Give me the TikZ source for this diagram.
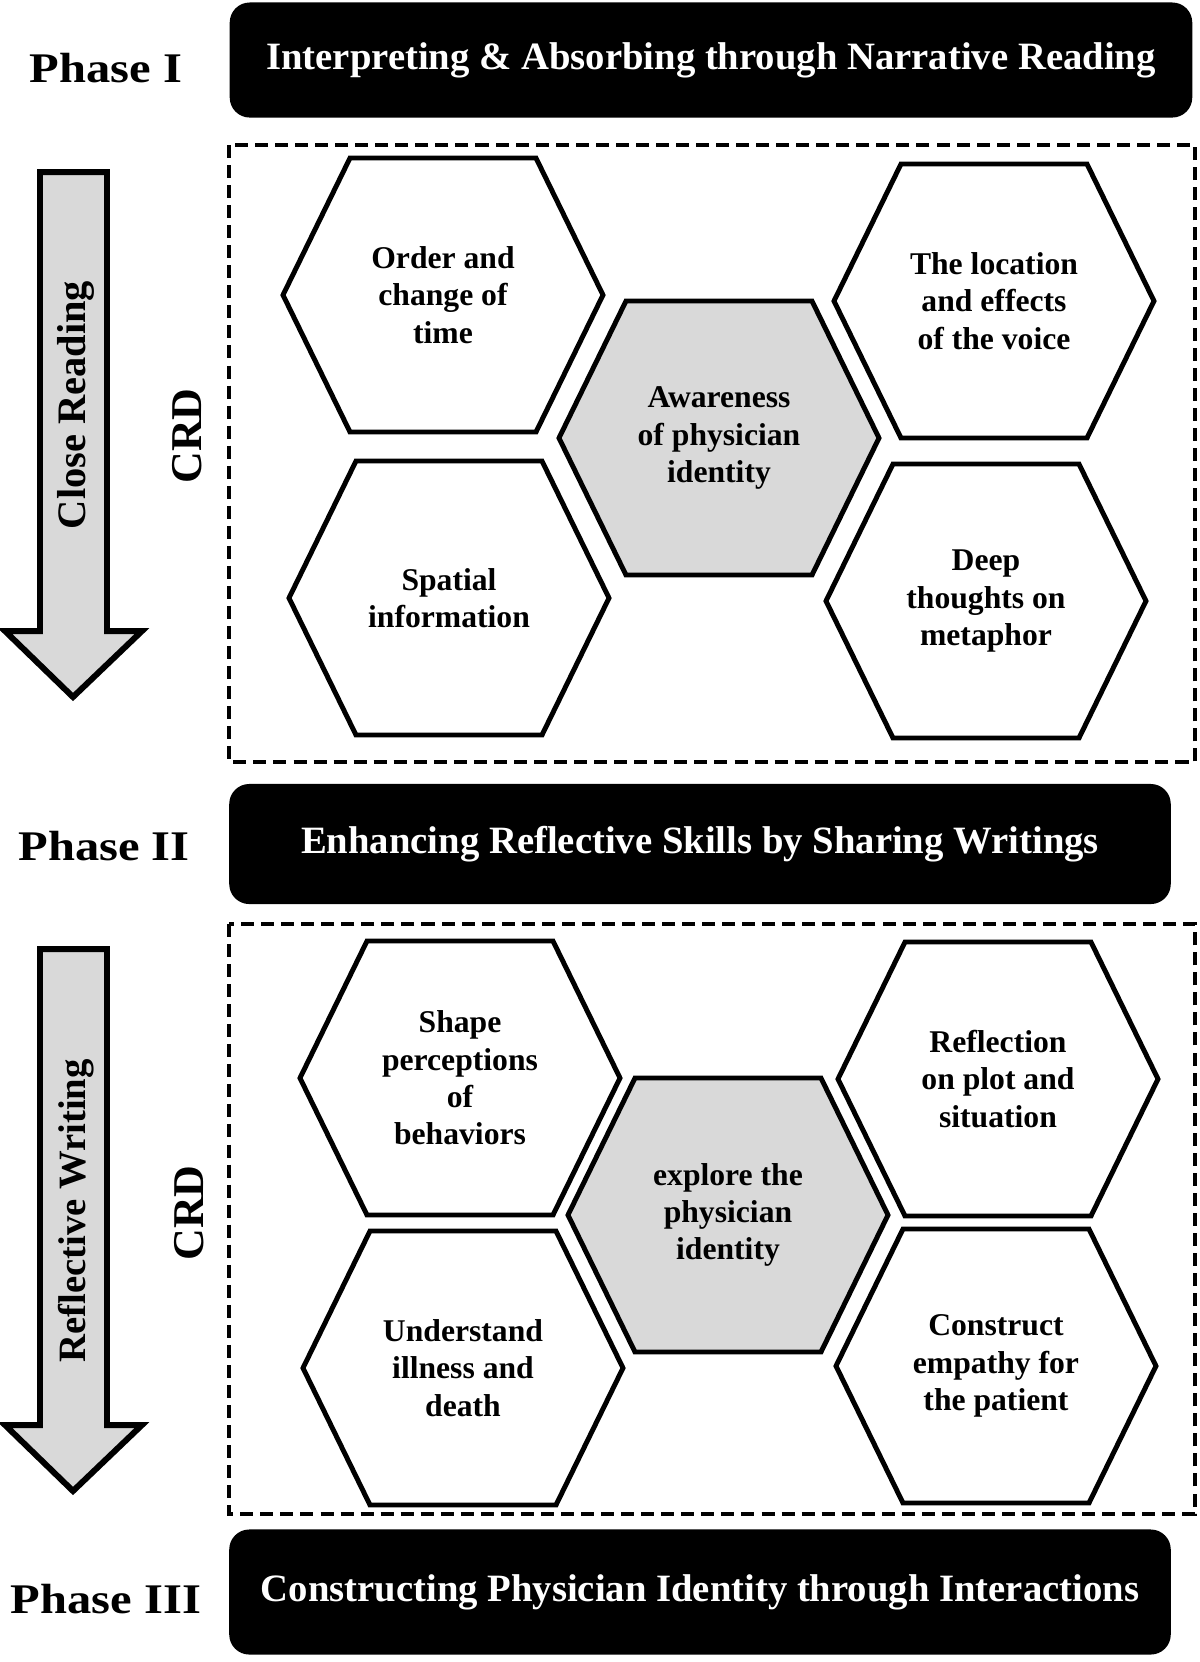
\documentclass[tikz,border=0pt]{standalone}
\usepackage{fontspec}
\setmainfont{Liberation Serif}
\newfontfamily\phasefont[FakeStretch=1.15]{Liberation Serif}
\usetikzlibrary{positioning}
\definecolor{cellgray}{RGB}{217,217,217}

% one hexagon cell: name, x, y, fill, text
\newcommand{\hexcell}[5]{%
  \draw[hexline,fill=#4] (#2-160,#3) -- (#2-93,#3-137) -- (#2+93,#3-137)
    -- (#2+160,#3) -- (#2+93,#3+137) -- (#2-93,#3+137) -- cycle;
  \node (#1) [hextext] at (#2,#3) {#5};}

\begin{document}
\begin{tikzpicture}[x=0.01cm,y=-0.01cm,
        banner/.style={fill=black,text=white,rounded corners=0.2cm,minimum height=1.17cm,
                       font=\fontsize{11}{13}\selectfont\bfseries},
        phase/.style={font=\phasefont\fontsize{12}{14}\selectfont\bfseries},
        hexline/.style={line width=1.4pt,line join=miter},
        hextext/.style={align=center,font=\fontsize{9}{10.6}\selectfont\bfseries},
        dashbox/.style={line width=1.1pt,dash pattern=on 3.7pt off 2pt},
        bigarrow/.style={fill=cellgray,line width=1.7pt,line join=miter},
        sidetext/.style={rotate=90,font=\fontsize{11.5}{14}\selectfont\bfseries},
        crd/.style={rotate=90,font=\fontsize{12.5}{15}\selectfont\bfseries}
      ]
  \useasboundingbox (0,0) rectangle (1200,1662);

  % Phase I
  \node (ban1) [banner,minimum width=9.62cm,minimum height=1.15cm] at (711,60)
        {Interpreting \& Absorbing through Narrative Reading};
  \node (lab1) [phase] at (106,68) {Phase I};

  \draw[dashbox] (229,145) rectangle (1195,762);
  \draw[bigarrow] (40,172) -- (107,172) -- (107,631) -- (142,631) -- (73,697)
        -- (5,631) -- (40,631) -- cycle;
  \node (close) [sidetext] at (76,405) {Close Reading};
  \node (crd1) [crd] at (187,436) {CRD};

  \hexcell{order}{443}{295}{white}{Order and\\change of\\time}
  \hexcell{voice}{994}{301}{white}{The location\\and effects\\of the voice}
  \hexcell{spatial}{449}{598}{white}{Spatial\\information}
  \hexcell{metaphor}{986}{601}{white}{Deep\\thoughts on\\metaphor}
  \hexcell{aware}{719}{438}{cellgray}{Awareness\\of physician\\identity}

  % Phase II
  \node (ban2) [banner,minimum width=9.41cm,minimum height=1.2cm] at (700,844)
        {Enhancing Reflective Skills by Sharing Writings};
  \node (lab2) [phase] at (104,846) {Phase II};

  \draw[dashbox] (229,924) rectangle (1195,1514);
  \draw[bigarrow] (40,949) -- (107,949) -- (107,1425) -- (142,1425) -- (73,1491)
        -- (5,1425) -- (40,1425) -- cycle;
  \node (reflect) [sidetext,font=\fontsize{11}{14}\selectfont\bfseries] at (76,1211) {Reflective Writing};
  \node (crd2) [crd] at (189,1213) {CRD};

  \hexcell{shape}{460}{1078}{white}{Shape\\perceptions\\of\\behaviors}
  \hexcell{plot}{998}{1079}{white}{Reflection\\on plot and\\situation}
  \hexcell{illness}{463}{1368}{white}{Understand\\illness and\\death}
  \hexcell{empathy}{996}{1366}{white}{Construct\\empathy for\\the patient}
  \hexcell{explore}{728}{1215}{cellgray}{explore the\\physician\\identity}

  % Phase III
  \node (ban3) [banner,minimum width=9.41cm,minimum height=1.25cm] at (700,1592)
        {Constructing Physician Identity through Interactions};
  \node (lab3) [phase] at (106,1599) {Phase III};

\end{tikzpicture}
\end{document}
